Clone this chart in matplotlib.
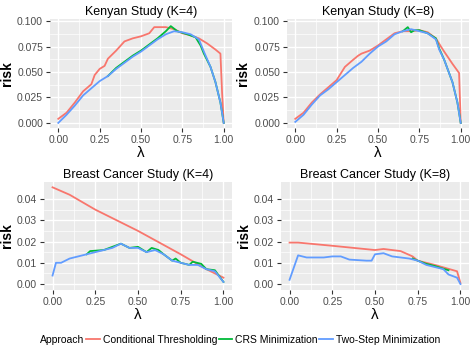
import matplotlib
matplotlib.use("Agg")
import matplotlib.pyplot as plt
from matplotlib.lines import Line2D

plt.rcParams["font.family"] = ["Liberation Sans", "DejaVu Sans"]

COLORS = {"cond": "#F8766D", "crs": "#00BA38", "two": "#619CFF"}
LABELS = {"cond": "Conditional Thresholding", "crs": "CRS Minimization",
          "two": "Two-Step Minimization"}

# ---- Kenyan Study (K=4) ----
k4_cond_x = [0, 0.05, 0.1, 0.15, 0.2, 0.22, 0.25, 0.28, 0.3, 0.35, 0.4, 0.45, 0.5, 0.55,
             0.58, 0.65, 0.7, 0.75, 0.8, 0.85, 0.9, 0.95, 0.98, 0.99, 1.0]
k4_cond_y = [0.004, 0.01, 0.02, 0.031, 0.038, 0.047, 0.053, 0.056, 0.063, 0.071, 0.08, 0.083,
             0.085, 0.088, 0.094, 0.094, 0.092, 0.088, 0.086, 0.083, 0.078, 0.072, 0.068, 0.03, 0.0]
k4_crs_x = [0.3, 0.35, 0.4, 0.45, 0.5, 0.55, 0.6, 0.65, 0.68, 0.72, 0.78, 0.83, 0.86, 0.88,
            0.92, 0.95, 0.98, 1.0]
k4_crs_y = [0.046, 0.054, 0.06, 0.066, 0.071, 0.077, 0.083, 0.09, 0.095, 0.09, 0.087, 0.084,
            0.076, 0.068, 0.055, 0.04, 0.02, 0.0]
k4_two_x = [0, 0.05, 0.1, 0.15, 0.2, 0.25, 0.3, 0.35, 0.4, 0.45, 0.5, 0.55, 0.6, 0.65, 0.7,
            0.75, 0.8, 0.85, 0.88, 0.92, 0.95, 0.98, 1.0]
k4_two_y = [0.0, 0.008, 0.017, 0.027, 0.034, 0.041, 0.046, 0.053, 0.059, 0.065, 0.07, 0.076,
            0.082, 0.087, 0.09, 0.089, 0.087, 0.082, 0.07, 0.055, 0.04, 0.02, 0.0]

# ---- Kenyan Study (K=8) ----
k8_cond_x = [0, 0.05, 0.1, 0.15, 0.2, 0.25, 0.3, 0.35, 0.38, 0.4, 0.45, 0.5, 0.55, 0.6, 0.65,
             0.7, 0.75, 0.8, 0.85, 0.88, 0.9, 0.95, 0.99, 1.0]
k8_cond_y = [0.004, 0.01, 0.02, 0.028, 0.035, 0.042, 0.055, 0.062, 0.066, 0.068, 0.071, 0.076,
             0.082, 0.088, 0.09, 0.09, 0.091, 0.089, 0.083, 0.075, 0.07, 0.058, 0.049, 0.0]
k8_crs_x = [0.65, 0.68, 0.7, 0.72, 0.75, 0.8, 0.85, 0.87, 0.9, 0.95, 0.98, 1.0]
k8_crs_y = [0.09, 0.094, 0.089, 0.091, 0.091, 0.088, 0.083, 0.073, 0.062, 0.04, 0.02, 0.0]
k8_two_x = [0, 0.05, 0.1, 0.15, 0.2, 0.25, 0.3, 0.35, 0.4, 0.45, 0.5, 0.55, 0.6, 0.65, 0.7,
            0.75, 0.8, 0.85, 0.87, 0.9, 0.95, 0.98, 1.0]
k8_two_y = [0.001, 0.008, 0.018, 0.027, 0.033, 0.04, 0.047, 0.054, 0.06, 0.068, 0.075, 0.08,
            0.087, 0.09, 0.092, 0.09, 0.088, 0.082, 0.072, 0.062, 0.04, 0.02, 0.0]

# ---- Breast Cancer Study (K=4) ----
b4_cond_x = [0, 0.1, 0.25, 0.5, 0.75, 0.9, 1.0]
b4_cond_y = [0.0455, 0.042, 0.035, 0.025, 0.014, 0.007, 0.003]
b4_crs_x = [0.2, 0.22, 0.3, 0.4, 0.45, 0.5, 0.55, 0.58, 0.62, 0.65, 0.7, 0.72, 0.75, 0.8,
            0.82, 0.87, 0.9, 0.95, 1.0]
b4_crs_y = [0.014, 0.0155, 0.016, 0.019, 0.017, 0.0175, 0.015, 0.017, 0.016, 0.014, 0.011,
            0.012, 0.01, 0.009, 0.0105, 0.0095, 0.007, 0.0065, 0.001]
b4_two_x = [0, 0.02, 0.05, 0.1, 0.15, 0.2, 0.25, 0.3, 0.35, 0.4, 0.45, 0.5, 0.55, 0.6, 0.65,
            0.7, 0.75, 0.8, 0.85, 0.9, 0.95, 1.0]
b4_two_y = [0.004, 0.01, 0.01, 0.012, 0.013, 0.014, 0.015, 0.016, 0.017, 0.019, 0.017, 0.017,
            0.015, 0.016, 0.014, 0.011, 0.01, 0.009, 0.009, 0.007, 0.006, 0.001]

# ---- Breast Cancer Study (K=8) ----
b8_cond_x = [0, 0.05, 0.25, 0.5, 0.55, 0.65, 0.72, 0.75, 0.85, 0.98, 1.0]
b8_cond_y = [0.0195, 0.0195, 0.018, 0.016, 0.0165, 0.0155, 0.013, 0.011, 0.009, 0.006, 0.0005]
b8_crs_x = [0.72, 0.75, 0.8, 0.85, 0.9, 0.93]
b8_crs_y = [0.012, 0.011, 0.0095, 0.0085, 0.0072, 0.0065]
b8_two_x = [0, 0.05, 0.1, 0.2, 0.25, 0.3, 0.35, 0.45, 0.48, 0.5, 0.55, 0.6, 0.7, 0.75, 0.8,
            0.85, 0.9, 0.93, 0.98, 1.0]
b8_two_y = [0.002, 0.0135, 0.0125, 0.0125, 0.013, 0.013, 0.0115, 0.011, 0.011, 0.014, 0.0145,
            0.013, 0.012, 0.011, 0.009, 0.008, 0.007, 0.0045, 0.003, 0.0]

x_ticks = [0, 0.25, 0.5, 0.75, 1.0]
x_ticklabels = ["0.00", "0.25", "0.50", "0.75", "1.00"]
top_yticks = [0, 0.025, 0.05, 0.075, 0.1]
top_yticklabels = ["0.000", "0.025", "0.050", "0.075", "0.100"]
bot_yticks = [0, 0.01, 0.02, 0.03, 0.04]
bot_yticklabels = ["0.00", "0.01", "0.02", "0.03", "0.04"]

W, H = 474, 355
fig = plt.figure(figsize=(W / 100, H / 100), dpi=100)


def px_axes(left, top, right, bottom):
    return fig.add_axes([left / W, 1 - bottom / H, (right - left) / W, (bottom - top) / H])


def style(ax, title, yticks, yticklabels, ylim, ylabel_px):
    ax.set_facecolor("#EBEBEB")
    for s in ax.spines.values():
        s.set_visible(False)
    ax.set_xlim(-0.05, 1.05)
    ax.set_ylim(*ylim)
    ax.set_xticks(x_ticks)
    ax.set_xticklabels(x_ticklabels)
    ax.set_yticks(yticks)
    ax.set_yticklabels(yticklabels)
    ax.set_xticks([0.125, 0.375, 0.625, 0.875], minor=True)
    ax.set_yticks([(a + b) / 2 for a, b in zip(yticks[:-1], yticks[1:])], minor=True)
    ax.grid(True, which="major", color="white", lw=1.0)
    ax.grid(True, which="minor", color="white", lw=0.5)
    ax.set_axisbelow(True)
    ax.tick_params(which="major", length=3, color="#333333", labelsize=7.5,
                   labelcolor="#4D4D4D", pad=2)
    ax.tick_params(which="minor", length=0)
    ax.set_title(title, fontsize=9, pad=3)
    ax.set_xlabel("λ", fontsize=11, labelpad=1)
    ax.set_ylabel("risk", fontsize=10, fontweight="bold")
    bbox = ax.get_position()
    ax.yaxis.set_label_coords((ylabel_px / W - bbox.x0) / bbox.width, 0.5)


panels = [
    (px_axes(50, 19, 232, 128), "Kenyan Study (K=4)",
     (k4_cond_x, k4_cond_y), (k4_crs_x, k4_crs_y), (k4_two_x, k4_two_y), "top", 13.5),
    (px_axes(287, 19, 469, 128), "Kenyan Study (K=8)",
     (k8_cond_x, k8_cond_y), (k8_crs_x, k8_crs_y), (k8_two_x, k8_two_y), "top", 250.5),
    (px_axes(44, 182, 232, 290), "Breast Cancer Study (K=4)",
     (b4_cond_x, b4_cond_y), (b4_crs_x, b4_crs_y), (b4_two_x, b4_two_y), "bot", 13.5),
    (px_axes(281, 182, 469, 290), "Breast Cancer Study (K=8)",
     (b8_cond_x, b8_cond_y), (b8_crs_x, b8_crs_y), (b8_two_x, b8_two_y), "bot", 250.5),
]

for ax, title, cond, crs, two, row, ylab in panels:
    ax.plot(*cond, color=COLORS["cond"], lw=1.3)
    ax.plot(*crs, color=COLORS["crs"], lw=1.3)
    ax.plot(*two, color=COLORS["two"], lw=1.3)
    if row == "top":
        style(ax, title, top_yticks, top_yticklabels, (-0.005, 0.102), ylab)
    else:
        style(ax, title, bot_yticks, bot_yticklabels, (-0.0028, 0.048), ylab)

handles = [Line2D([], [], color=COLORS[k], lw=1.3) for k in ["cond", "crs", "two"]]
fig.text(40 / W, 1 - 340 / H, "Approach", fontsize=7.5, va="center", ha="left")
leg = fig.legend(handles, [LABELS[k] for k in ["cond", "crs", "two"]],
                 loc="center left", bbox_to_anchor=(86 / W, 1 - 340 / H), ncol=3,
                 frameon=False, fontsize=7.5, handlelength=1.3, handletextpad=0.3,
                 columnspacing=0.15, borderaxespad=0, borderpad=0)

fig.savefig("out.png", dpi=100)
